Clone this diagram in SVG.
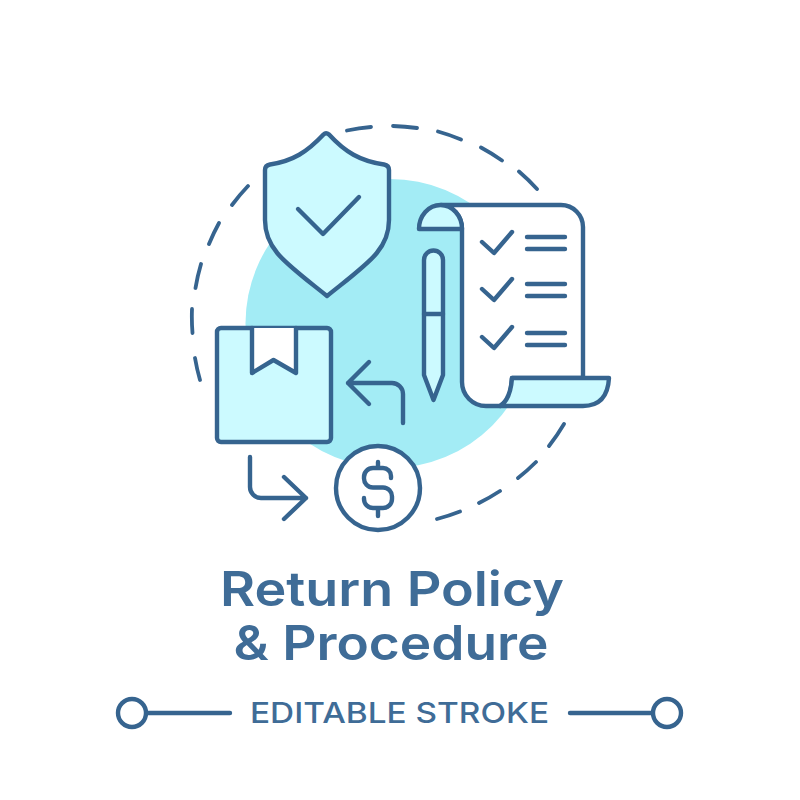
<svg xmlns="http://www.w3.org/2000/svg" width="800" height="800" viewBox="0 0 800 800">
<style>
.s{fill:none;stroke:#36648f;stroke-width:4.4;stroke-linecap:round;stroke-linejoin:round}
.l{fill:#ccfaff}
.w{fill:#fff}
.d{fill:none;stroke:#36648f;stroke-width:3.8;stroke-linecap:round}
text{font-family:Inter,"Liberation Sans",sans-serif;fill:#3f6c97;text-anchor:middle}
.t{font-size:48px;font-weight:600}
.e{font-size:29px;font-weight:500}
</style>
<rect width="800" height="800" fill="#fff"/>
<circle id="backdrop" cx="390" cy="323.500" r="144.500" fill="#a3ecf5"/>
<g id="dashed-ring">
<path class="d" d="M347 130.500A200 200 0 0 1 371 127M393 126A200 200 0 0 1 417 128M438 131.500A200 200 0 0 1 461 139.500M481 147.500A200 200 0 0 1 502 160.500M519 171.500A200 200 0 0 1 537 189"/>
<path class="d" d="M564 424A200 200 0 0 1 549 446M536 462A200 200 0 0 1 518 478M500 491A200 200 0 0 1 479 503M460 511.500A200 200 0 0 1 437 519"/>
<path class="d" d="M248 186A200 200 0 0 0 232 205M219 223A200 200 0 0 0 209 244M201 264A200 200 0 0 0 195.500 288M192 309A200 200 0 0 0 192.500 333M195 358A200 200 0 0 0 200 380"/>
</g>
<g id="shield">
<path class="s l" d="M323.500 134.500Q326 132 329 134.500C345 152 360 161 384 164.500Q389 165.500 389 170V220C389 250 368 263 327 296C286 263 265 250 265 220V170Q265 165.500 270 164.500C293 161 307 152 323.500 134.500Z"/>
<path class="s" d="M298 209L323 234L359 197"/>
</g>
<g id="scroll">
<path class="s w" d="M441 205H561A22 22 0 0 1 583 227V378H512C511 391 510 400 500 406H486A24 24 0 0 1 462 382V229A21.500 24 0 0 0 441 205Z"/>
<path class="s l" d="M419 229A21.500 24 0 0 1 462 229Z"/>
<path class="s l" d="M512 378H609C608 396 600 406 583 406H500C508 401 511 392 512 378Z"/>
<path class="s" d="M482 242L494 253L512 232M527 237H565M527 249H565M482 289L494 300L512 279M527 284H565M527 296H565M482 337L494 348L512 327M527 333H565M527 345H565"/>
</g>
<g id="pen">
<path class="s l" d="M424 375V260A9.500 9.500 0 0 1 443 260V375L433.500 400Z"/>
<path class="s" d="M424 314H443"/>
</g>
<g id="box">
<rect class="s l" x="217" y="328" width="114" height="114" rx="4"/>
<path class="s w" d="M252 328V373L273.500 360L296 373V328"/>
</g>
<g id="coin">
<circle class="s w" cx="378" cy="488" r="42"/>
<path class="s" d="M391 478V476A8 8 0 0 0 383 468H373A9 9 0 0 0 364 477V478A9 9 0 0 0 373 487.500H383A9 9 0 0 1 392 497V499A9 9 0 0 1 383 508H373A9 9 0 0 1 364 499V498M378 462V468M378 508V516"/>
</g>
<g id="connectors">
<path class="s" d="M403 423V394A11 11 0 0 0 392 383H348M369 362L348 383L369 404"/>
<path class="s" d="M250 457V487A11 11 0 0 0 261 498H306M284 477L306 498L284 519"/>
</g>
<text class="t" x="392" y="606" textLength="344" lengthAdjust="spacingAndGlyphs">Return Policy</text>
<text class="t" x="391" y="660" textLength="315" lengthAdjust="spacingAndGlyphs">&amp; Procedure</text>
<g id="footer">
<circle class="s" cx="132" cy="713" r="14"/>
<circle class="s" cx="667" cy="713" r="14"/>
<path class="s" d="M147 713H230M570 713H652"/>
<text class="e" x="399.500" y="723" textLength="299" lengthAdjust="spacingAndGlyphs">EDITABLE STROKE</text>
</g>
</svg>
